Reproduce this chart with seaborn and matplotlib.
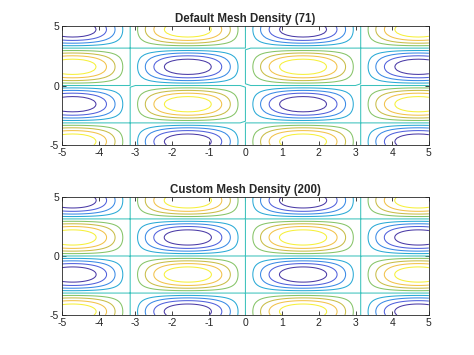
import numpy as np
import matplotlib
matplotlib.use('Agg')
import matplotlib.pyplot as plt
import seaborn as sns

# chart data
x_limits = [-5, 5]
y_limits = [-5, 5]
mesh_densities = [71, 200]
titles = ['Default Mesh Density (71)', 'Custom Mesh Density (200)']
levels = [-0.8, -0.6, -0.4, -0.2, 0.0, 0.2, 0.4, 0.6, 0.8]
x_ticks = [-5, -4, -3, -2, -1, 0, 1, 2, 3, 4, 5]
y_ticks = [-5, 0, 5]
# parula-like colours for each level
level_colors = ['#4a3aa6', '#5060dc', '#3a8ae6', '#2aaad6', '#3cc2bc',
                '#86c468', '#c9bd48', '#f2c24a', '#f6f03a']


def surface(x, y):
    return np.sin(x) * np.sin(y)


sns.set_style('ticks')
plt.rcParams['font.family'] = ['Liberation Sans', 'DejaVu Sans']
plt.rcParams['axes.unicode_minus'] = False

fig = plt.figure(figsize=(4.74, 3.55), dpi=100)
boxes = [[0.1308, 0.5915, 0.774, 0.3353], [0.1308, 0.1127, 0.774, 0.3324]]

for box, n, title in zip(boxes, mesh_densities, titles):
    ax = fig.add_axes(box)
    xs = np.linspace(x_limits[0], x_limits[1], n)
    ys = np.linspace(y_limits[0], y_limits[1], n)
    X, Y = np.meshgrid(xs, ys)
    Z = surface(X, Y)
    ax.contour(X, Y, Z, levels=levels, colors=sns.color_palette(level_colors),
               linewidths=0.75, linestyles='solid')
    ax.set_xlim(x_limits)
    ax.set_ylim(y_limits)
    ax.set_xticks(x_ticks)
    ax.set_yticks(y_ticks)
    ax.tick_params(direction='in', length=3, width=0.6, labelsize=7.5,
                   colors='#262626', pad=2, top=True, right=True)
    for s in ax.spines.values():
        s.set_linewidth(0.6)
        s.set_color('#262626')
    ax.set_title(title, fontsize=8.3, fontweight='bold', pad=3)

fig.savefig('out.png', dpi=100)
